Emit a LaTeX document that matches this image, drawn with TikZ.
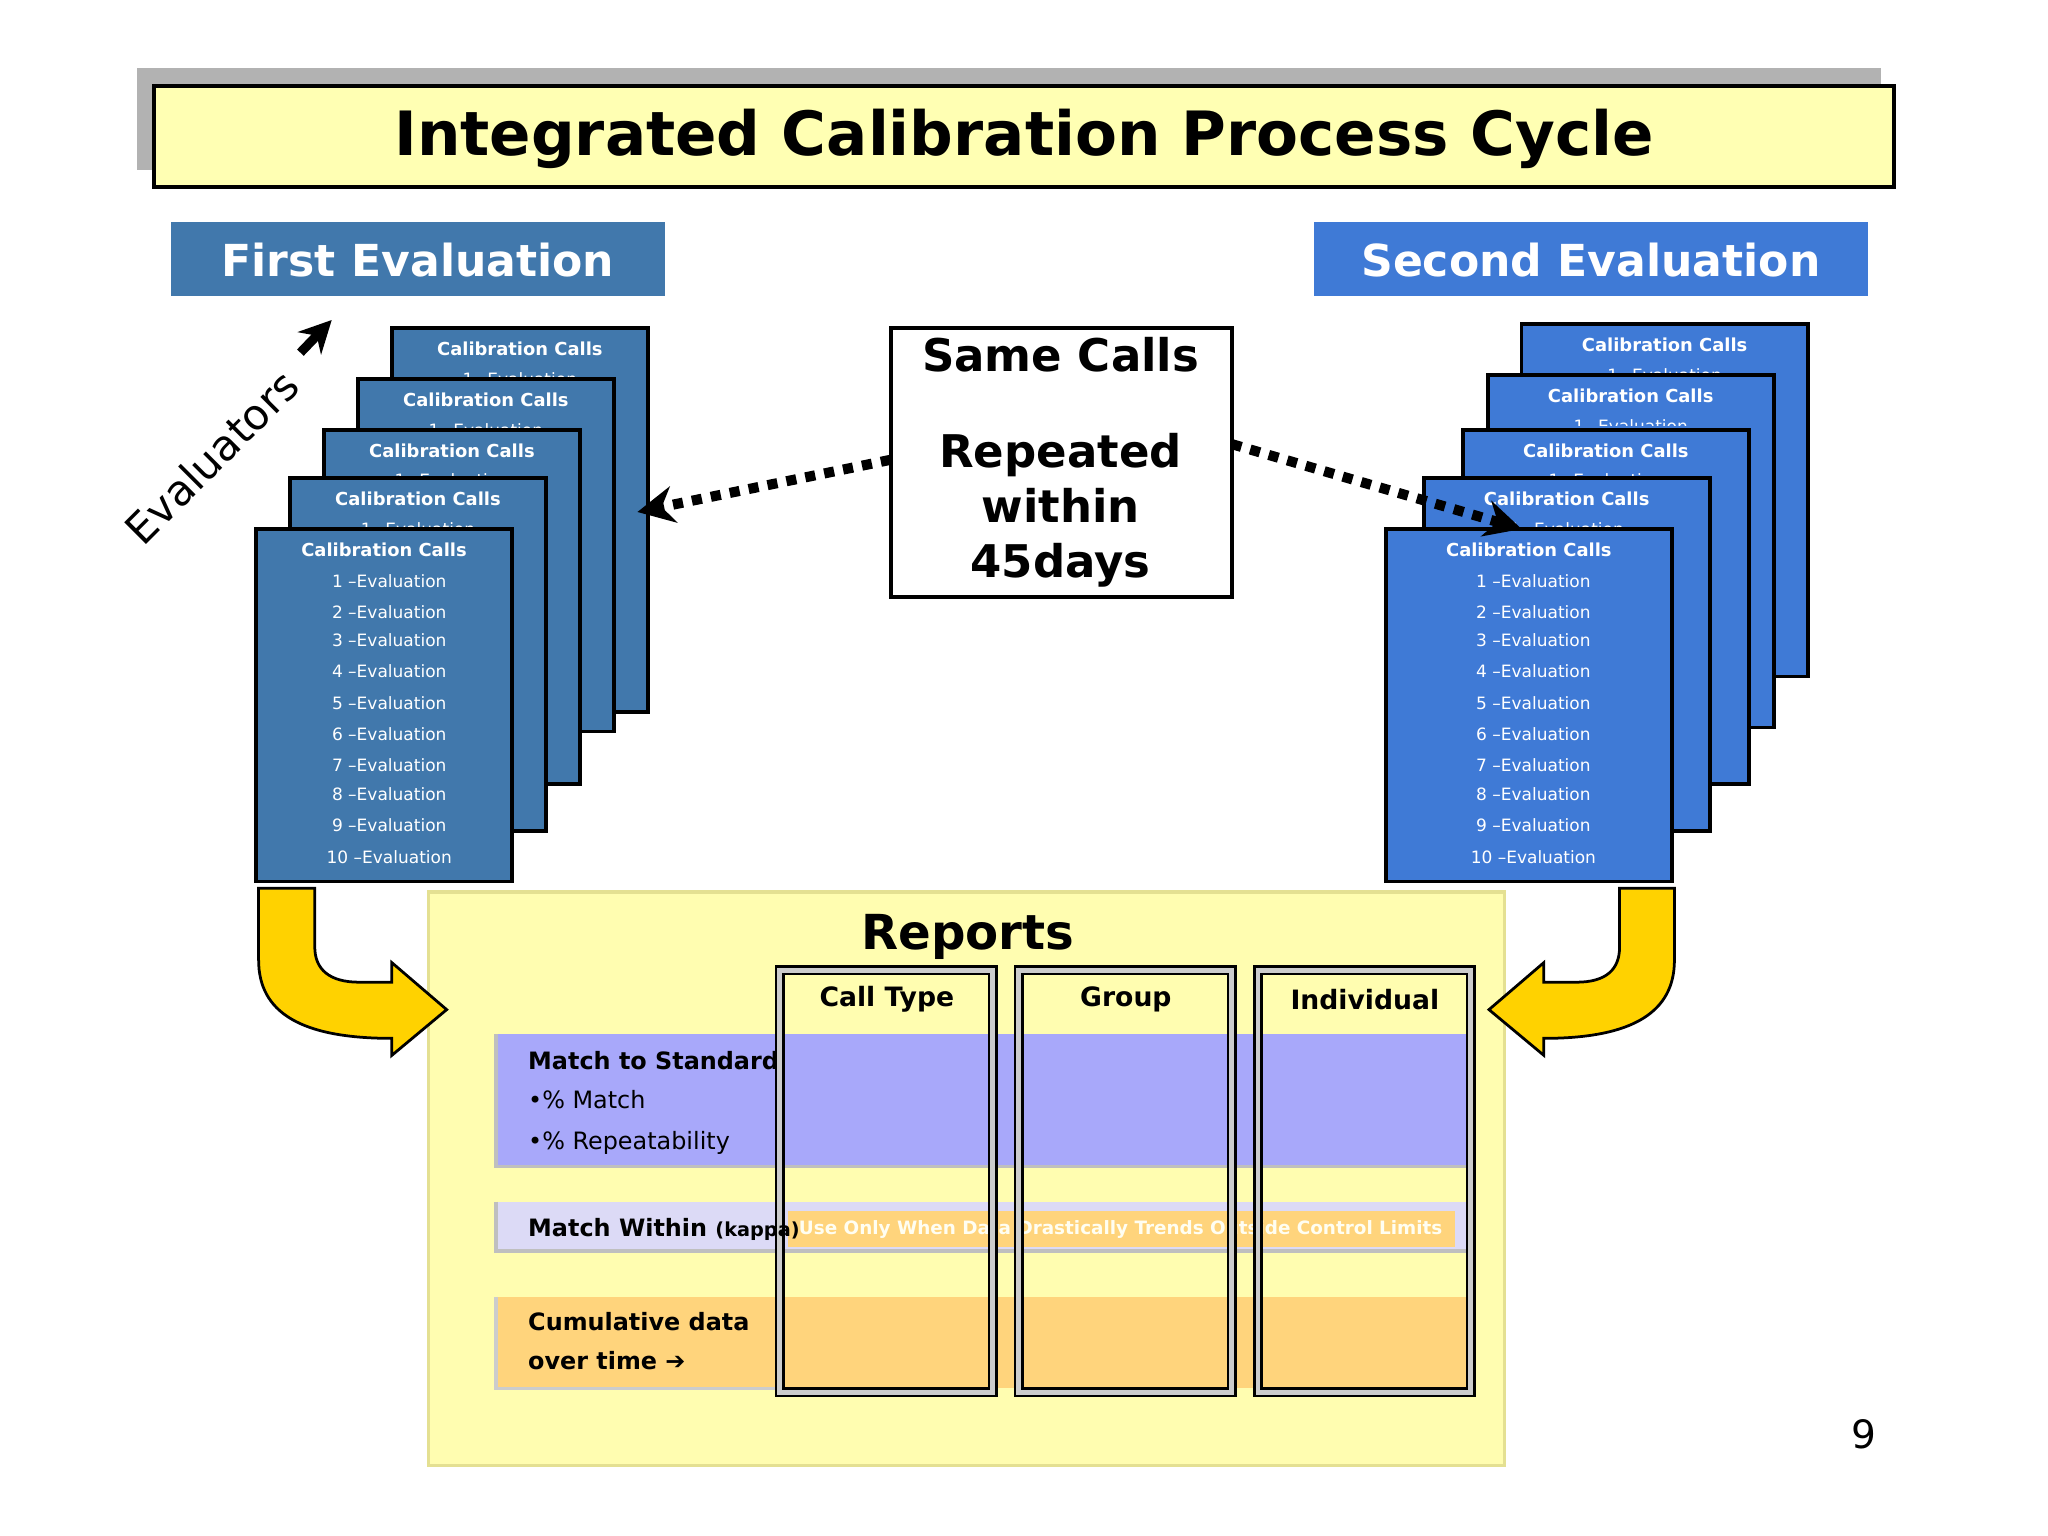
\documentclass[tikz,border=0pt]{standalone}
\usepackage{fontspec}
\setmainfont{DejaVu Sans}
\usetikzlibrary{arrows.meta}
\definecolor{titlefill}{HTML}{FFFFB3}
\definecolor{leftblue}{HTML}{4178AC}
\definecolor{rightblue}{HTML}{3F7AD6}
\definecolor{repfill}{HTML}{FFFDB0}
\definecolor{rowblue}{HTML}{A8A8FA}
\definecolor{rowlav}{HTML}{DCDAF6}
\definecolor{roworange}{HTML}{FFD47C}
\definecolor{arrowyellow}{HTML}{FFD200}
\tikzset{
  card/.style={draw=black, line width=0.8pt},
  cardtxt/.style={text=white, font=\fontsize{3.7}{4.5}\selectfont},
  bighead/.style={text=white, font=\bfseries\fontsize{9.6}{11}\selectfont},
  colbox/.style={draw=black, double=gray!40, double distance=1pt, line width=0.6pt},
  rowtxt/.style={anchor=west, font=\fontsize{5.2}{6.5}\selectfont},
  rowbold/.style={rowtxt, font=\bfseries\fontsize{5.2}{6.5}\selectfont},
  yarrow/.style={fill=arrowyellow, draw=black, line width=0.6pt},
  dotarrow/.style={line width=2.2pt, dotted, -{Stealth[length=8pt,width=8pt]}}
}
\begin{document}
\begin{tikzpicture}[x=0.01cm,y=-0.01cm]
\useasboundingbox (0,0) rectangle (1568,1176);
% title
\fill[gray!60] (105,52) rectangle (1440,130);
\fill[titlefill,draw=black,line width=0.8pt] (118,66) rectangle (1450,143);
\node[font=\bfseries\fontsize{13.3}{15}\selectfont] (title) at (784,106) {Integrated Calibration Process Cycle};
% headers
\fill[leftblue] (131,170) rectangle (509,227);
\node[bighead] (first) at (320,199) {First Evaluation};
\fill[rightblue] (1006,170) rectangle (1430,227);
\node[bighead] (second) at (1218,199) {Second Evaluation};
% card stacks
\foreach \x/\y/\w/\h/\c/\f [count=\i] in {300/251/196/294/leftblue/1,274/290/196/270/leftblue/1,248/329/196/271/leftblue/1,222/366/196/270/leftblue/1,196/405/196/270/leftblue/0,
  1165/248/219/270/rightblue/1,1139/287/219/270/rightblue/1,1120/329/219/271/rightblue/1,1090/366/219/270/rightblue/1,1061/405/219/270/rightblue/0}{
  \fill[\c,card] (\x,\y) rectangle ++(\w,\h);
  \node[cardtxt,font=\bfseries\fontsize{3.9}{4.5}\selectfont] (ct\i) at (\x+\w/2,\y+16) {Calibration Calls};
  \ifnum\f=1
  \begin{scope}
  \clip (\x,\y) rectangle ++(\w,39);
  \node[cardtxt] (ce\i) at (\x+\w/2,\y+39) {1 –Evaluation};
  \end{scope}
  \fi
}
\foreach \yy [count=\k] in {445,469,490,514,538,562,586,608,632,656}{
  \node[cardtxt] (le\k) at (298,\yy) {\k\ –Evaluation};
  \node[cardtxt] (re\k) at (1174,\yy) {\k\ –Evaluation};
}
\node[rotate=45,font=\fontsize{9.2}{10}\selectfont] (eval) at (162,350) {Evaluators};
\coordinate (ea) at (230,270);
\coordinate (eb) at (254,245);
\draw[line width=2pt,-{Stealth[length=7pt,width=7pt]}] (ea) -- (eb);
% same calls
\draw[fill=white,line width=0.8pt] (682,251) rectangle (943,457);
\node[align=center,font=\bfseries\fontsize{9.8}{12}\selectfont] (same) at (812,354) {Same Calls\\[9pt]Repeated\\within\\45days};
\coordinate (sl) at (682,352);
\coordinate (sr) at (943,340);
\coordinate (lt) at (488,392);
\coordinate (rt) at (1165,405);
\draw[dotarrow] (sl) -- (lt);
\draw[dotarrow] (sr) -- (rt);
% reports
\fill[repfill,draw=yellow!60!gray!60,line width=0.8pt] (328,683) rectangle (1152,1122);
\node[font=\bfseries\fontsize{10.5}{12}\selectfont] (rep) at (741,717) {Reports};
\fill[rowblue] (380,792) rectangle (1126,893);
\draw[gray!50,line width=0.8pt] (380,792) -- (380,893) -- (1126,893);
\fill[rowlav] (380,920) rectangle (1126,958);
\draw[gray!50,line width=0.8pt] (380,920) -- (380,958) -- (1126,958);
\fill[roworange] (380,993) rectangle (1126,1063);
\draw[gray!40,line width=0.8pt] (380,993) -- (380,1063) -- (600,1063);
\fill[roworange] (603,927) rectangle (1114,955);
\node[text=white!95!yellow,font=\bfseries\fontsize{4}{5}\selectfont] (use) at (858,941) {Use Only When Data Drastically Trends Outside Control Limits};
\foreach \x/\t [count=\i] in {597/Call Type,780/Group,963/Individual}{
  \draw[colbox] (\x,743) rectangle (\x+163,1066);
  \node[font=\bfseries\fontsize{5.8}{7}\selectfont] (col\i) at (\x+82,765) {\t};
}
\node[rowbold] (m1) at (392,812) {Match to Standard};
\node[rowtxt] (m2) at (392,842) {•\% Match};
\node[rowtxt] (m3) at (392,875) {•\% Repeatability};
\node[rowbold] (mw) at (392,941) {Match Within {\fontsize{4.2}{5}\selectfont(kappa)}};
\node[rowbold] (cu1) at (392,1012) {Cumulative data};
\node[rowbold] (cu2) at (392,1042) {over time ➔};
% yellow arrows
\draw[yarrow] (198,680) -- (198,735) .. controls (198,775) and (230,795) .. (300,795) -- (300,808) -- (342,773) -- (300,737) -- (300,752)
  -- (275,752) .. controls (252,752) and (241,742) .. (241,725) -- (241,680) -- cycle;
\draw[yarrow] (1282,680) -- (1282,735) .. controls (1282,775) and (1250,795) .. (1182,795) -- (1182,808) -- (1140,773) -- (1182,737) -- (1182,752)
  -- (1207,752) .. controls (1230,752) and (1240,742) .. (1240,725) -- (1240,680) -- cycle;
\node[font=\fontsize{8.5}{10}\selectfont] (pg) at (1427,1098) {9};
\end{tikzpicture}
\end{document}
